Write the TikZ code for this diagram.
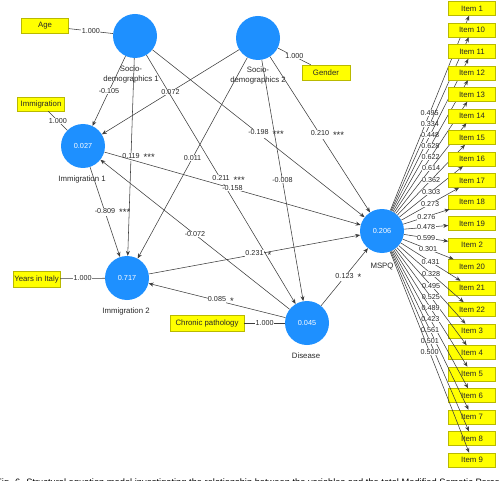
\documentclass[tikz,border=0pt]{standalone}
\usepackage{fontspec}
\setmainfont{Liberation Sans}
\usetikzlibrary{arrows.meta}
\definecolor{plsblue}{RGB}{30,144,255}
\definecolor{boxyel}{RGB}{255,255,0}
\definecolor{boxedge}{RGB}{185,185,0}
\definecolor{linegrey}{RGB}{60,60,60}
\definecolor{txtgrey}{RGB}{40,40,40}
\newcommand{\stars}[1]{\rlap{\hspace{4pt}\raisebox{-2.2pt}{\fontsize{9.5}{9.5}\selectfont #1}}}
\begin{document}
\begin{tikzpicture}[x=1pt,y=-1pt,
  lv/.style={circle,fill=plsblue,draw=none,minimum size=44pt,inner sep=0pt,text=white,font=\fontsize{7.3}{8}\selectfont},
  mv/.style={rectangle,fill=boxyel,draw=boxedge,line width=0.5pt,minimum height=14pt,minimum width=47pt,inner sep=1pt,font=\fontsize{7.8}{9}\selectfont,text=txtgrey},
  lvname/.style={font=\fontsize{7.8}{10}\selectfont,text=txtgrey,align=center,inner sep=0pt},
  conn/.style={draw=linegrey,line width=0.55pt},
  arr/.style={conn,-{Stealth[length=5pt,width=4pt]}},
  coef/.style={fill=white,inner sep=0.4pt,font=\fontsize{7.2}{8}\selectfont,text=txtgrey},
]
\useasboundingbox (0,0) rectangle (500,481);

% latent variables
\node[lv] (soc1) at (135,36) {};
\node[lv] (soc2) at (258,38) {};
\node[lv] (imm1) at (83,146) {0.027};
\node[lv] (imm2) at (127,278) {0.717};
\node[lv] (dis) at (307,323) {0.045};
\node[lv] (mspq) at (382,231) {0.206};

% names
\node[lvname] (n1) at (131,74) {Socio-\\demographics 1};
\node[lvname] (n2) at (258,75.5) {Socio-\\demographics 2};
\node[lvname] (n3) at (82,179) {Immigration 1};
\node[lvname] (n4) at (126,311) {Immigration 2};
\node[lvname] (n5) at (306,356) {Disease};
\node[lvname] (n6) at (382,267) {MSPQ};

% indicators
\node[mv,minimum height=15pt] (age) at (45,26) {Age};
\node[mv] (immi) at (41,104) {Immigration};
\node[mv,minimum height=16pt] (yit) at (36.5,279) {Years in Italy};
\node[mv,minimum height=16pt,minimum width=74pt] (chr) at (207,323) {Chronic pathology};
\node[mv,minimum height=15pt,minimum width=48pt] (gen) at (326,72.5) {Gender};

\draw[conn] (age) -- node[coef] (c1) {1.000} (soc1);
\draw[conn] (immi) -- node[coef] (c2) {1.000} (imm1);
\draw[conn] (yit) -- node[coef] (c3) {1.000} (imm2);
\draw[conn] (chr) -- node[coef] (c4) {1.000} (dis);
\draw[conn] (gen) -- node[coef] (c5) {1.000} (soc2);

% structural paths
\draw[arr] (soc1) -- node[coef] (p1) {-0.105} (imm1);
\draw[arr] (soc2) -- node[coef] (p2) {0.072} (imm1);
\draw[arr] (soc1) -- node[coef] (p3) {0.119\stars{***}} (imm2);
\draw[arr] (soc2) -- node[coef] (p4) {0.011} (imm2);
\draw[arr] (soc1) -- node[coef] (p5) {0.211\stars{***}} (dis);
\draw[arr] (soc2) -- node[coef] (p6) {-0.008} (dis);
\draw[arr] (soc1) -- node[coef] (p7) {-0.198\stars{***}} (mspq);
\draw[arr] (soc2) -- node[coef] (p8) {0.210\stars{***}} (mspq);
\draw[arr] (imm1) -- node[coef] (p9) {-0.809\stars{***}} (imm2);
\draw[arr] (imm1) -- node[coef] (p10) {-0.158} (mspq);
\draw[arr] (dis) -- node[coef] (p11) {-0.072} (imm1);
\draw[arr] (dis) -- node[coef] (p12) {0.085\stars{*}} (imm2);
\draw[arr] (imm2) -- node[coef] (p13) {0.231\stars{*}} (mspq);
\draw[arr] (dis) -- node[coef] (p14) {0.123\stars{*}} (mspq);

% MSPQ items
\foreach \lab/\val [count=\k] in {Item 1/0.495, Item 10/0.334, Item 11/0.448, Item 12/0.628,
  Item 13/0.622, Item 14/0.614, Item 15/0.362, Item 16/0.303, Item 17/0.273, Item 18/0.276,
  Item 19/0.478, Item 2/0.599, Item 20/0.301, Item 21/0.431, Item 22/0.328, Item 3/0.495,
  Item 4/0.525, Item 5/0.489, Item 6/0.423, Item 7/0.561, Item 8/0.501, Item 9/0.500}{
  \node[mv] (it\k) at (472,{8.5+21.5*(\k-1)}) {\lab};
  \draw[arr] (mspq) -- node[coef] (ld\k) {\val} (it\k);
}

% caption (cut off at the bottom edge, as in the reference)
\begin{scope}
\clip (0,0) rectangle (500,481);
\node[anchor=base west,inner sep=0pt,font=\fontsize{9.3}{11}\selectfont] (cap) at (-4,485.5)
  {Fig. 6. Structural equation model investigating the relationship between the variables and the total Modified Somatic Perception Questionnaire};
\end{scope}
\end{tikzpicture}
\end{document}
